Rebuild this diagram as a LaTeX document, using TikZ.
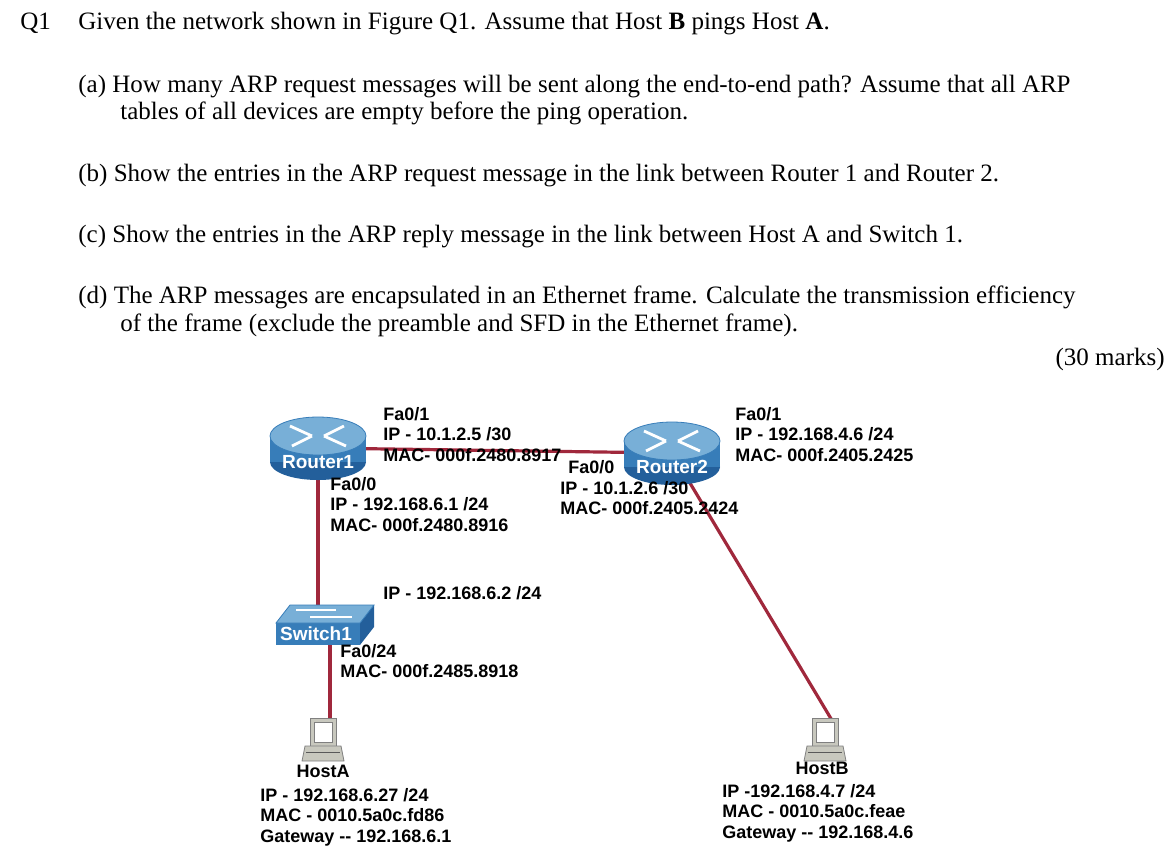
\documentclass[tikz,border=0pt]{standalone}
\usepackage{fontspec}
\setmainfont{Liberation Serif}
\newfontfamily\netfont{Liberation Sans}
\usetikzlibrary{positioning}
\definecolor{linkred}{RGB}{160,40,60}
\definecolor{rtop}{RGB}{120,175,215}
\definecolor{rbody}{RGB}{55,125,185}
\definecolor{rdark}{RGB}{35,95,155}
\definecolor{hostgray}{RGB}{200,200,190}
\tikzset{
  qtext/.style={anchor=base west,inner sep=0pt,font=\fontsize{12.5}{15}\selectfont},
  netlbl/.style={anchor=north west,inner sep=0pt,align=left,font=\netfont\bfseries\fontsize{9}{10.2}\selectfont},
  link/.style={draw=linkred,line width=1.6pt},
  pics/router/.style={code={
    \fill[rdark] (0,14) ellipse [x radius=48,y radius=18];
    \fill[rbody] (-48,-12) rectangle (48,14);
    \fill[rtop,draw=rbody] (0,-12) ellipse [x radius=48,y radius=19];
    \draw[white,line width=1.4pt] (-28,-22) -- (-6,-12) (28,-2) -- (6,-12)
      (-26,-2) -- (-6,-12) (26,-22) -- (6,-12);
    \node[white,font=\netfont\bfseries\fontsize{9.5}{11}\selectfont] at (0,14) {#1};
  }},
  pics/switch/.style={code={
    \fill[rbody] (-46,-2) rectangle (38,20);
    \fill[rdark] (38,20) -- (52,2) -- (52,-20) -- (38,-2) -- cycle;
    \fill[rtop,draw=rbody] (-46,-2) -- (-32,-20) -- (52,-20) -- (38,-2) -- cycle;
    \draw[white,line width=1.2pt] (-26,-15) -- (14,-15) (-12,-8) -- (30,-8);
    \node[white,font=\netfont\bfseries\fontsize{9.5}{11}\selectfont] at (-6,9) {#1};
  }},
  pics/host/.style={code={
    \fill[hostgray,draw=gray] (-13,-24) rectangle (13,4);
    \fill[white,draw=gray] (-9,-20) rectangle (9,0);
    \fill[hostgray,draw=gray] (-18,4) -- (18,4) -- (21,19) -- (-21,19) -- cycle;
    \draw[gray!70!black] (-17,10) -- (17,10);
  }}
}
\begin{document}
\begin{tikzpicture}[x=0.5pt,y=-0.5pt]
\useasboundingbox (0,0) rectangle (1170,853);
% question text
\node[qtext] at (20,29) {Q1};
\node[qtext] at (78,29) {Given the network shown in Figure Q1. Assume that Host \textbf{B} pings Host \textbf{A}.};
\node[qtext] at (78,92) {(a) How many ARP request messages will be sent along the end-to-end path? Assume that all ARP};
\node[qtext] at (120,119) {tables of all devices are empty before the ping operation.};
\node[qtext] at (78,181) {(b) Show the entries in the ARP request message in the link between Router 1 and Router 2.};
\node[qtext] at (78,242) {(c) Show the entries in the ARP reply message in the link between Host A and Switch 1.};
\node[qtext] at (78,303) {(d) The ARP messages are encapsulated in an Ethernet frame. Calculate the transmission efficiency};
\node[qtext] at (120,331) {of the frame (exclude the preamble and SFD in the Ethernet frame).};
\node[qtext,anchor=base east] at (1165,365) {(30 marks)};
% network
\coordinate (r1) at (318,448);
\coordinate (r2) at (672,453);
\coordinate (sw1) at (322,625);
\coordinate (ha) at (323,742);
\coordinate (hb) at (825,742);
\draw[link] (r1) -- (r2);
\draw[link] (r1 |- sw1) -- (r1);
\draw[link] (330,722) -- (330,625);
\draw[link] (r2) -- (833,722);
\pic at (r1) {router=Router1};
\pic at (r2) {router=Router2};
\pic at (sw1) {switch=Switch1};
\pic at (ha) {host};
\pic at (hb) {host};
\node[netlbl] (r1fa1) at (383,407) {Fa0/1\\IP - 10.1.2.5 /30\\MAC- 000f.2480.8917};
\node[netlbl] (r2fa1) at (735,407) {Fa0/1\\IP - 192.168.4.6 /24\\MAC- 000f.2405.2425};
\node[netlbl] (r1fa0) at (330,477) {Fa0/0\\IP - 192.168.6.1 /24\\MAC- 000f.2480.8916};
\node[netlbl] (r2fa0a) at (568,460) {Fa0/0};
\node[netlbl] (r2fa0) at (560,481) {IP - 10.1.2.6 /30\\MAC- 000f.2405.2424};
\node[netlbl] (swip) at (383,586) {IP - 192.168.6.2 /24};
\node[netlbl] (swfa) at (340,644) {Fa0/24\\MAC- 000f.2485.8918};
\node[netlbl,anchor=north] (halbl) at (323,765) {HostA};
\node[netlbl] (haip) at (260,788) {IP - 192.168.6.27 /24\\MAC - 0010.5a0c.fd86\\Gateway -- 192.168.6.1};
\node[netlbl,anchor=north] (hblbl) at (822,762) {HostB};
\node[netlbl] (hbip) at (722,784) {IP -192.168.4.7 /24\\MAC - 0010.5a0c.feae\\Gateway -- 192.168.4.6};
\end{tikzpicture}
\end{document}
